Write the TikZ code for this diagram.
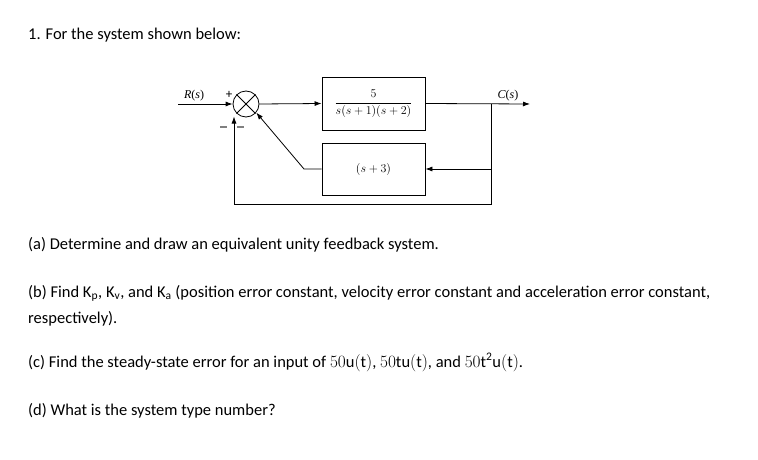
\documentclass[tikz,border=0pt]{standalone}
\usepackage{fontspec}
\setmainfont{Carlito}
\newfontfamily\dfont{Liberation Serif}
\usetikzlibrary{arrows.meta}
\begin{document}
\begin{tikzpicture}[x=1pt,y=-1pt,
  blk/.style={draw,line width=0.8pt,minimum width=103pt,inner sep=0pt,font=\fontsize{12}{14}\selectfont},
  ln/.style={line width=0.8pt},
  arr/.style={ln,-{Latex[length=7pt,width=5pt]}},
  txt/.style={anchor=base west,inner sep=0pt,font=\fontsize{16.5}{19}\selectfont}]
\useasboundingbox (0,0) rectangle (758,460);
\node[txt] (t1) at (28,40) {1. For the system shown below:};
\node[draw,circle,line width=0.8pt,minimum size=26pt,inner sep=0pt] (sum) at (246,104) {};
\draw[ln] (sum.45)--(sum.225) (sum.135)--(sum.-45);
\node[blk,minimum height=53pt] (G) at (373.5,103.5) {$\displaystyle\frac{5}{s(s+1)(s+2)}$};
\node[blk,minimum height=52pt] (H) at (373.5,169) {$(s+3)$};
\coordinate (rin) at (178,104);
\coordinate (out) at (530,104);
\coordinate (br) at (491,104);
\coordinate (bl) at (491,204);
\coordinate (ll) at (234,204);
\coordinate (hk) at (304,169);
\draw[arr] (rin)--(sum.west);
\draw[arr] (sum.east)--(G.west);
\draw[arr] (G.east)--(out);
\draw[arr] (br)|-(H.east);
\draw[ln] (br)--(bl)--(ll);
\draw[arr] (ll)--(234,116.5);
\draw[arr] (H.west)--(hk)--(sum.-40);
\node[font=\dfont\itshape\fontsize{12}{14}\selectfont,anchor=base] (R) at (194,99) {R\upshape(\itshape s\upshape)};
\node[font=\fontsize{13}{14}\selectfont,anchor=base] (plus) at (229,99) {+};
\node[font=\dfont\itshape\fontsize{12}{14}\selectfont,anchor=base] (C) at (508,99) {C\upshape(\itshape s\upshape)};
\draw[gray,line width=1.2pt] (220,127)--(227,127) (237,127)--(244,127);
\node[txt] (a) at (28,249) {(a) Determine and draw an equivalent unity feedback system.};
\node[txt] (b) at (28,297) {(b) Find $\mathrm{K_p}$, $\mathrm{K_v}$, and $\mathrm{K_a}$ (position error constant, velocity error constant and acceleration error constant,};
\node[txt] (b2) at (28,323) {respectively).};
\node[txt] (c) at (28,367) {(c) Find the steady-state error for an input of $50\mathrm{u(t)}$, $50\mathrm{tu(t)}$, and $50\mathrm{t^2u(t)}$.};
\node[txt] (d) at (28,415) {(d) What is the system type number?};
\end{tikzpicture}
\end{document}
